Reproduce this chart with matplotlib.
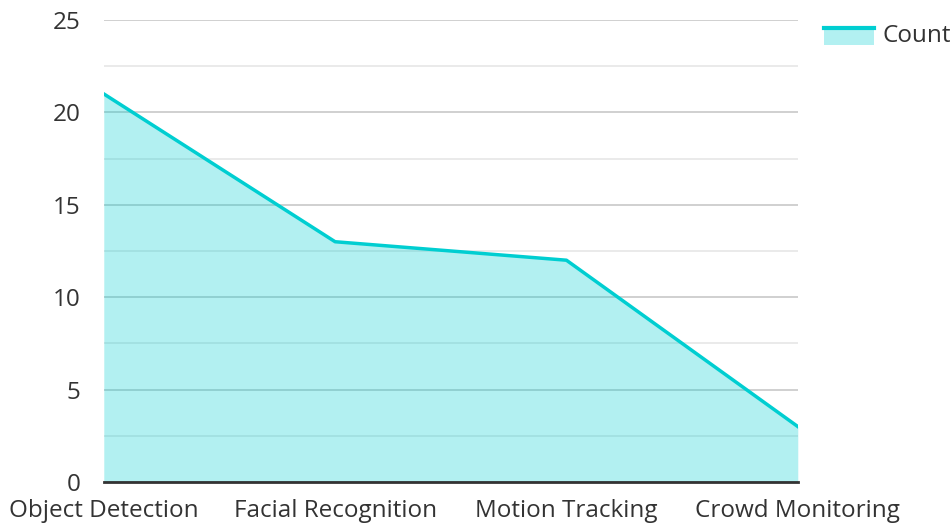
import numpy as np
import matplotlib.pyplot as plt
from matplotlib.patches import Rectangle
from matplotlib.lines import Line2D
from matplotlib.legend_handler import HandlerBase

plt.rcParams['font.family'] = ['Open Sans', 'DejaVu Sans']

categories = ['Object Detection', 'Facial Recognition', 'Motion Tracking', 'Crowd Monitoring']
counts = [21, 13, 12, 3]
y_ticks = [0, 5, 10, 15, 20, 25]

line_color = '#00CED1'


class AreaHandler(HandlerBase):
    # fill rectangle with the line along its top edge
    def create_artists(self, legend, orig_handle, xdescent, ydescent, width, height, fontsize, trans):
        top = height * 0.8
        rect = Rectangle((-xdescent, -ydescent - 2), width, top + 2,
                         facecolor=line_color, alpha=0.3, edgecolor='none', transform=trans)
        ln = Line2D([-xdescent, -xdescent + width], [top, top],
                    color=line_color, linewidth=3, transform=trans)
        return [rect, ln]


fig = plt.figure(figsize=(9.52, 5.24), dpi=100)
ax = fig.add_axes([0.109, 0.0802, 0.729, 0.8817])

x = np.arange(len(categories))
ax.fill_between(x, counts, 0, color=line_color, alpha=0.3, linewidth=0, zorder=2)
area_line, = ax.plot(x, counts, color=line_color, linewidth=2.5, zorder=3)

ax.set_xlim(0, len(categories) - 1)
ax.set_ylim(0, 25)
ax.set_xticks(x)
ax.set_xticklabels(categories)
ax.set_yticks(y_ticks)
ax.set_yticks(np.arange(2.5, 25, 5), minor=True)

ax.grid(axis='y', which='major', color='#c8c8c8', linewidth=1.2, zorder=1)
ax.grid(axis='y', which='minor', color='#e6e6e6', linewidth=1.2, zorder=1)
ax.set_axisbelow(True)

for s in ['top', 'right', 'left']:
    ax.spines[s].set_visible(False)
ax.spines['bottom'].set_color('#333333')
ax.spines['bottom'].set_linewidth(2)

ax.tick_params(axis='both', which='both', length=0, labelsize=17.5, colors='#333333')
ax.tick_params(axis='y', pad=17)
ax.tick_params(axis='x', pad=12)

fig.legend([area_line], ['Count'], handler_map={Line2D: AreaHandler()},
           loc='upper left', bbox_to_anchor=(0.8425, 0.996), frameon=False,
           fontsize=17.5, handlelength=2.05, handletextpad=0.35, labelcolor='#333333')

fig.savefig('out.png', dpi=100)
